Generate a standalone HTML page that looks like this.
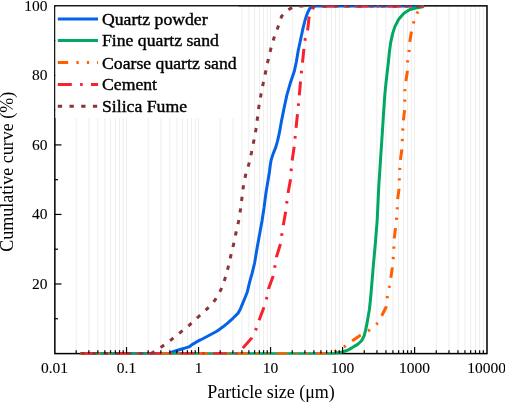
<!DOCTYPE html>
<html><head><meta charset="utf-8"><style>
html,body{margin:0;padding:0;background:#fff;width:505px;height:402px;overflow:hidden}
svg{display:block}
text{font-family:"Liberation Serif","Times New Roman",serif;fill:#000}
.lg text{stroke:#000;stroke-width:0.4px}
.tl text{stroke:#000;stroke-width:0.1px}
</style></head><body>
<svg width="505" height="402" viewBox="0 0 505 402">
<g stroke="#eeeeee" stroke-width="1"><line x1="76.18" y1="6.5" x2="76.18" y2="353" /><line x1="88.86" y1="6.5" x2="88.86" y2="353" /><line x1="97.86" y1="6.5" x2="97.86" y2="353" /><line x1="104.84" y1="6.5" x2="104.84" y2="353" /><line x1="110.54" y1="6.5" x2="110.54" y2="353" /><line x1="115.36" y1="6.5" x2="115.36" y2="353" /><line x1="119.54" y1="6.5" x2="119.54" y2="353" /><line x1="123.22" y1="6.5" x2="123.22" y2="353" /><line x1="126.52" y1="6.5" x2="126.52" y2="353" /><line x1="148.20" y1="6.5" x2="148.20" y2="353" /><line x1="160.88" y1="6.5" x2="160.88" y2="353" /><line x1="169.88" y1="6.5" x2="169.88" y2="353" /><line x1="176.86" y1="6.5" x2="176.86" y2="353" /><line x1="182.56" y1="6.5" x2="182.56" y2="353" /><line x1="187.38" y1="6.5" x2="187.38" y2="353" /><line x1="191.56" y1="6.5" x2="191.56" y2="353" /><line x1="195.24" y1="6.5" x2="195.24" y2="353" /><line x1="198.54" y1="6.5" x2="198.54" y2="353" /><line x1="220.22" y1="6.5" x2="220.22" y2="353" /><line x1="232.90" y1="6.5" x2="232.90" y2="353" /><line x1="241.90" y1="6.5" x2="241.90" y2="353" /><line x1="248.88" y1="6.5" x2="248.88" y2="353" /><line x1="254.58" y1="6.5" x2="254.58" y2="353" /><line x1="259.40" y1="6.5" x2="259.40" y2="353" /><line x1="263.58" y1="6.5" x2="263.58" y2="353" /><line x1="267.26" y1="6.5" x2="267.26" y2="353" /><line x1="270.56" y1="6.5" x2="270.56" y2="353" /><line x1="292.24" y1="6.5" x2="292.24" y2="353" /><line x1="304.92" y1="6.5" x2="304.92" y2="353" /><line x1="313.92" y1="6.5" x2="313.92" y2="353" /><line x1="320.90" y1="6.5" x2="320.90" y2="353" /><line x1="326.60" y1="6.5" x2="326.60" y2="353" /><line x1="331.42" y1="6.5" x2="331.42" y2="353" /><line x1="335.60" y1="6.5" x2="335.60" y2="353" /><line x1="339.28" y1="6.5" x2="339.28" y2="353" /><line x1="342.58" y1="6.5" x2="342.58" y2="353" /><line x1="364.26" y1="6.5" x2="364.26" y2="353" /><line x1="376.94" y1="6.5" x2="376.94" y2="353" /><line x1="385.94" y1="6.5" x2="385.94" y2="353" /><line x1="392.92" y1="6.5" x2="392.92" y2="353" /><line x1="398.62" y1="6.5" x2="398.62" y2="353" /><line x1="403.44" y1="6.5" x2="403.44" y2="353" /><line x1="407.62" y1="6.5" x2="407.62" y2="353" /><line x1="411.30" y1="6.5" x2="411.30" y2="353" /><line x1="414.60" y1="6.5" x2="414.60" y2="353" /><line x1="436.28" y1="6.5" x2="436.28" y2="353" /><line x1="448.96" y1="6.5" x2="448.96" y2="353" /><line x1="457.96" y1="6.5" x2="457.96" y2="353" /><line x1="464.94" y1="6.5" x2="464.94" y2="353" /><line x1="470.64" y1="6.5" x2="470.64" y2="353" /><line x1="475.46" y1="6.5" x2="475.46" y2="353" /><line x1="479.64" y1="6.5" x2="479.64" y2="353" /><line x1="483.32" y1="6.5" x2="483.32" y2="353" /><line x1="486.62" y1="6.5" x2="486.62" y2="353" /></g>
<g stroke="#000" stroke-width="1.5" fill="none">
<rect x="54.85" y="5.85" width="432.15" height="347.75"/>
</g>
<defs><clipPath id="pc"><rect x="54" y="5.4" width="434" height="349.0"/></clipPath></defs>
<g fill="none" stroke-linejoin="round" clip-path="url(#pc)">
<polyline points="80.0,353.8 168.0,353.8 173.0,351.7 177.0,350.5 180.9,349.3 184.9,348.1 188.9,346.9 192.9,344.1 196.9,341.7 200.9,339.7 205.6,337.2 211.2,334.2 216.8,331.2 220.0,329.0 223.0,326.8 227.9,322.8 232.9,318.3 237.9,313.4 240.4,308.9 242.9,302.9 245.3,297.0 247.3,292.0 249.3,283.4 252.2,272.9 254.6,263.0 257.3,246.8 259.7,233.8 262.0,221.0 264.0,207.9 266.0,192.4 267.9,181.2 269.4,172.0 270.3,165.0 271.2,159.8 273.2,153.6 275.7,147.4 277.5,141.2 279.2,133.7 281.4,121.6 284.0,108.5 286.8,95.4 290.5,82.4 294.3,71.2 296.3,62.0 298.2,50.8 300.5,40.0 302.8,29.2 305.1,20.0 307.4,13.1 309.7,8.5 312.8,6.5 316.0,6.1 424.0,6.1" stroke="#0463e6" stroke-width="3"/>
<polyline points="80.0,353.8 333.0,353.8 338.0,352.8 342.3,352.0 346.0,350.8 349.3,349.4 352.0,347.8 357.6,344.4 360.3,342.0 362.1,339.9 364.3,335.3 365.7,329.6 367.1,322.9 368.2,316.2 369.4,309.5 370.1,303.0 370.9,295.0 373.0,269.7 375.3,243.9 377.2,220.0 378.8,185.9 381.0,152.4 382.5,130.0 383.6,112.3 384.8,94.8 386.0,82.6 387.4,70.5 388.4,62.0 389.3,52.8 390.7,42.3 392.7,33.4 394.9,26.6 398.7,19.2 403.9,13.2 409.9,9.5 415.8,8.0 420.0,7.2 424.0,6.6" stroke="#00a862" stroke-width="3"/>
<polyline points="80.0,353.8 330.5,353.8 335.7,351.0 344.8,346.4 352.7,340.5 359.7,335.7 369.2,330.3 376.7,324.0 381.7,315.8 386.3,306.7 387.3,296.5 389.3,286.6 391.1,275.9 392.3,267.7 393.3,257.6 393.9,247.1 394.4,237.0 395.5,228.1 396.6,218.5 397.3,208.4 397.8,197.9 398.9,190.0 399.3,179.1 399.8,168.4 400.6,158.5 401.8,149.8 402.3,139.8 402.8,129.4 403.6,118.7 404.8,108.7 404.8,100.0 404.9,89.6 406.1,79.6 407.3,72.1 407.6,61.4 409.1,51.0 409.9,40.8 411.3,32.6 413.6,22.6 417.3,12.8 421.5,6.5 424.0,6.3" stroke="#ff5f00" stroke-width="3" stroke-dasharray="10.45 8.24 2.31 8.24 2.21 8.04" stroke-dashoffset="0.66"/>
<polyline points="80.0,353.8 238.5,353.8 242.1,348.9 251.7,338.1 256.1,329.0 259.4,319.5 264.3,306.4 266.8,297.4 268.5,288.7 273.3,275.7 274.9,266.2 276.5,256.8 280.5,243.9 281.9,233.9 283.5,224.0 285.7,211.6 287.0,200.8 288.3,191.5 290.6,179.1 291.3,168.6 292.4,159.0 294.2,146.7 296.3,125.7 298.5,104.0 300.5,81.7 301.5,71.8 303.9,48.9 305.2,39.0 307.8,28.8 309.0,17.9 311.0,11.0 313.2,8.0 316.0,6.0 424.0,6.0" stroke="#f8222e" stroke-width="3" stroke-dasharray="13.86 8.22 2.57 8.12" stroke-dashoffset="31.0"/>
<polyline points="80.0,353.8 150.0,353.8 153.2,352.3 162.4,346.3 171.3,339.7 180.4,332.3 189.4,325.1 198.2,317.0 207.0,308.9 215.1,299.9 221.0,289.6 224.9,278.9 228.1,267.4 230.7,256.1 233.5,244.7 235.9,233.1 238.5,221.6 240.5,209.6 241.9,198.3 243.3,186.8 245.5,175.4 248.9,163.9 251.5,152.5 253.9,140.6 255.9,129.7 257.5,117.8 258.9,106.4 260.9,94.9 263.2,83.3 265.6,71.9 268.1,60.2 270.9,48.5 274.0,37.8 278.0,27.0 281.6,16.3 286.0,11.5 290.4,8.5 295.0,6.0 424.0,6.0" stroke="#8c3538" stroke-width="3" stroke-dasharray="4.3 7.4" stroke-dashoffset="11.25"/>
</g>
<g stroke="#000" stroke-width="1.2"><line x1="76.18" y1="353.50" x2="76.18" y2="350.20"/><line x1="88.86" y1="353.50" x2="88.86" y2="350.20"/><line x1="97.86" y1="353.50" x2="97.86" y2="350.20"/><line x1="104.84" y1="353.50" x2="104.84" y2="350.20"/><line x1="110.54" y1="353.50" x2="110.54" y2="350.20"/><line x1="115.36" y1="353.50" x2="115.36" y2="350.20"/><line x1="119.54" y1="353.50" x2="119.54" y2="350.20"/><line x1="123.22" y1="353.50" x2="123.22" y2="350.20"/><line x1="126.52" y1="353.50" x2="126.52" y2="347.00"/><line x1="148.20" y1="353.50" x2="148.20" y2="350.20"/><line x1="160.88" y1="353.50" x2="160.88" y2="350.20"/><line x1="169.88" y1="353.50" x2="169.88" y2="350.20"/><line x1="176.86" y1="353.50" x2="176.86" y2="350.20"/><line x1="182.56" y1="353.50" x2="182.56" y2="350.20"/><line x1="187.38" y1="353.50" x2="187.38" y2="350.20"/><line x1="191.56" y1="353.50" x2="191.56" y2="350.20"/><line x1="195.24" y1="353.50" x2="195.24" y2="350.20"/><line x1="198.54" y1="353.50" x2="198.54" y2="347.00"/><line x1="220.22" y1="353.50" x2="220.22" y2="350.20"/><line x1="232.90" y1="353.50" x2="232.90" y2="350.20"/><line x1="241.90" y1="353.50" x2="241.90" y2="350.20"/><line x1="248.88" y1="353.50" x2="248.88" y2="350.20"/><line x1="254.58" y1="353.50" x2="254.58" y2="350.20"/><line x1="259.40" y1="353.50" x2="259.40" y2="350.20"/><line x1="263.58" y1="353.50" x2="263.58" y2="350.20"/><line x1="267.26" y1="353.50" x2="267.26" y2="350.20"/><line x1="270.56" y1="353.50" x2="270.56" y2="347.00"/><line x1="292.24" y1="353.50" x2="292.24" y2="350.20"/><line x1="304.92" y1="353.50" x2="304.92" y2="350.20"/><line x1="313.92" y1="353.50" x2="313.92" y2="350.20"/><line x1="320.90" y1="353.50" x2="320.90" y2="350.20"/><line x1="326.60" y1="353.50" x2="326.60" y2="350.20"/><line x1="331.42" y1="353.50" x2="331.42" y2="350.20"/><line x1="335.60" y1="353.50" x2="335.60" y2="350.20"/><line x1="339.28" y1="353.50" x2="339.28" y2="350.20"/><line x1="342.58" y1="353.50" x2="342.58" y2="347.00"/><line x1="364.26" y1="353.50" x2="364.26" y2="350.20"/><line x1="376.94" y1="353.50" x2="376.94" y2="350.20"/><line x1="385.94" y1="353.50" x2="385.94" y2="350.20"/><line x1="392.92" y1="353.50" x2="392.92" y2="350.20"/><line x1="398.62" y1="353.50" x2="398.62" y2="350.20"/><line x1="403.44" y1="353.50" x2="403.44" y2="350.20"/><line x1="407.62" y1="353.50" x2="407.62" y2="350.20"/><line x1="411.30" y1="353.50" x2="411.30" y2="350.20"/><line x1="414.60" y1="353.50" x2="414.60" y2="347.00"/><line x1="436.28" y1="353.50" x2="436.28" y2="350.20"/><line x1="448.96" y1="353.50" x2="448.96" y2="350.20"/><line x1="457.96" y1="353.50" x2="457.96" y2="350.20"/><line x1="464.94" y1="353.50" x2="464.94" y2="350.20"/><line x1="470.64" y1="353.50" x2="470.64" y2="350.20"/><line x1="475.46" y1="353.50" x2="475.46" y2="350.20"/><line x1="479.64" y1="353.50" x2="479.64" y2="350.20"/><line x1="483.32" y1="353.50" x2="483.32" y2="350.20"/><line x1="54.50" y1="318.74" x2="58.00" y2="318.74"/><line x1="54.50" y1="283.97" x2="61.50" y2="283.97"/><line x1="54.50" y1="249.20" x2="58.00" y2="249.20"/><line x1="54.50" y1="214.44" x2="61.50" y2="214.44"/><line x1="54.50" y1="179.68" x2="58.00" y2="179.68"/><line x1="54.50" y1="144.91" x2="61.50" y2="144.91"/><line x1="54.50" y1="110.15" x2="58.00" y2="110.15"/><line x1="54.50" y1="75.38" x2="61.50" y2="75.38"/><line x1="54.50" y1="40.62" x2="58.00" y2="40.62"/></g>
<rect x="55.4" y="6.7" width="183" height="111.3" fill="#fff"/>
<g class="tl" font-size="15.5"><text x="54.50" y="373" text-anchor="middle">0.01</text><text x="126.52" y="373" text-anchor="middle">0.1</text><text x="198.54" y="373" text-anchor="middle">1</text><text x="270.56" y="373" text-anchor="middle">10</text><text x="342.58" y="373" text-anchor="middle">100</text><text x="414.60" y="373" text-anchor="middle">1000</text><text x="486.62" y="373" text-anchor="middle">10000</text><text x="47.5" y="288.97" text-anchor="end">20</text><text x="47.5" y="219.44" text-anchor="end">40</text><text x="47.5" y="149.91" text-anchor="end">60</text><text x="47.5" y="80.38" text-anchor="end">80</text><text x="47.5" y="10.85" text-anchor="end">100</text></g>
<g class="lg" font-size="17.7"><line x1="57.8" y1="19.0" x2="98" y2="19.0" stroke="#0463e6" stroke-width="3"/><text x="102" y="25.0">Quartz powder</text><line x1="57.8" y1="40.4" x2="98" y2="40.4" stroke="#00a862" stroke-width="3"/><text x="102" y="46.4">Fine quartz sand</text><line x1="57.8" y1="62.5" x2="98" y2="62.5" stroke="#ff5f00" stroke-width="3" stroke-dasharray="10.4 8.2 2.3 8.2 2.2 8"/><text x="102" y="68.5">Coarse quartz sand</text><line x1="57.8" y1="84.4" x2="98" y2="84.4" stroke="#f8222e" stroke-width="3" stroke-dasharray="14 8.3 2.6 8.2"/><text x="102" y="90.4">Cement</text><line x1="57.8" y1="106.3" x2="98" y2="106.3" stroke="#8c3538" stroke-width="3" stroke-dasharray="4.3 7.4"/><text x="102" y="112.3">Silica Fume</text></g>
<text x="271" y="397.8" font-size="18" text-anchor="middle">Particle size (μm)</text>
<text transform="translate(13.0,171.7) rotate(-90)" font-size="18" text-anchor="middle">Cumulative curve (%)</text>
</svg>
</body></html>
